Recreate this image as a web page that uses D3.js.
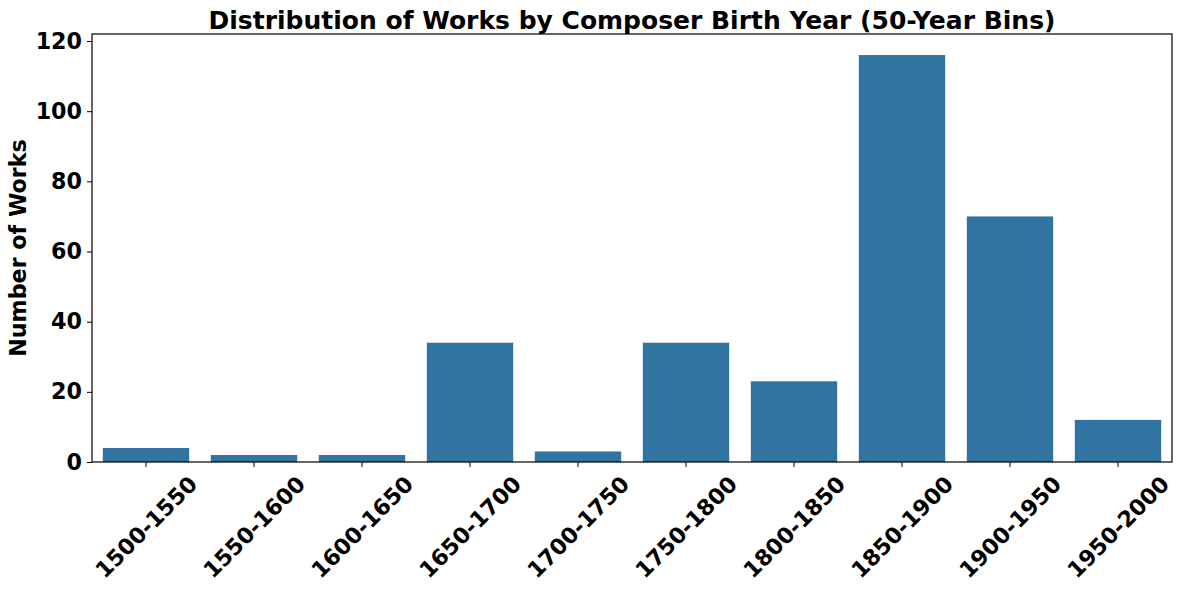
<!DOCTYPE html>
<html lang="en">
  <head>
    <meta charset="utf-8">
    <title>Works by Composer Birth Year</title>
    <style>
      body { margin: 0; background: #fff; }
      svg { display: block; font-family: "DejaVu Sans", sans-serif; font-weight: bold; }
    </style>
    <script src="https://d3js.org/d3.v7.min.js"></script>
  </head>
  <body>
    <script>
      // data
      const bins = ['1500-1550', '1550-1600', '1600-1650', '1650-1700', '1700-1750',
                    '1750-1800', '1800-1850', '1850-1900', '1900-1950', '1950-2000'];
      const counts = [4, 2, 2, 34, 3, 34, 23, 116, 70, 12];
      const yTicks = [0, 20, 40, 60, 80, 100, 120];

      const width = 1182, height = 590;
      const margin = { left: 92, right: 10, top: 34, bottom: 128 };
      const tickFont = 22.2, titleFont = 25;

      const svg = d3.select('body').append('svg')
                    .attr('width', width)
                    .attr('height', height);

      const x = d3.scaleBand()
                  .domain(bins)
                  .range([margin.left, width - margin.right])
                  .paddingInner(0.2)
                  .paddingOuter(0.1);

      const y = d3.scaleLinear()
                  .domain([0, 122])
                  .range([height - margin.bottom, margin.top]);

      // bars
      svg.append('g').selectAll('rect')
        .data(bins)
        .join('rect')
          .attr('x', d => x(d))
          .attr('y', (d, i) => y(counts[i]))
          .attr('width', x.bandwidth())
          .attr('height', (d, i) => y(0) - y(counts[i]))
          .attr('fill', '#3274a1');

      // y axis
      const yAxis = svg.append('g')
        .attr('transform', `translate(${margin.left},0)`)
        .call(d3.axisLeft(y).tickValues(yTicks).tickSize(5).tickPadding(5).tickSizeOuter(0));
      yAxis.select('.domain').remove();
      yAxis.selectAll('text').attr('font-size', tickFont).attr('font-family', 'DejaVu Sans').attr('font-weight', 'bold').attr('fill', '#000');
      yAxis.selectAll('line').attr('stroke', '#000').attr('stroke-width', 1);

      // x axis
      const xAxis = svg.append('g')
        .attr('transform', `translate(0,${y(0)})`)
        .call(d3.axisBottom(x).tickSize(5).tickSizeOuter(0));
      xAxis.select('.domain').remove();
      xAxis.selectAll('line').attr('stroke', '#000').attr('stroke-width', 1);
      xAxis.selectAll('text')
        .attr('font-size', tickFont)
        .attr('font-family', 'DejaVu Sans')
        .attr('font-weight', 'bold')
        .attr('fill', '#000')
        .attr('text-anchor', 'middle')
        .attr('dy', null)
        .attr('dominant-baseline', 'central')
        .each(function() {
          // rotate around centre, top of rotated box sits 10px under the axis
          const w = this.getComputedTextLength();
          const h = tickFont * 1.0;
          const cy = 10 + (w + h) * Math.SQRT1_2 / 2;
          d3.select(this).attr('y', 0).attr('transform', `translate(0,${cy}) rotate(-45)`);
        });

      // frame
      svg.append('rect')
        .attr('x', margin.left)
        .attr('y', margin.top)
        .attr('width', width - margin.left - margin.right)
        .attr('height', height - margin.top - margin.bottom)
        .attr('fill', 'none')
        .attr('stroke', '#000')
        .attr('stroke-width', 1.2);

      // title and y label
      svg.append('text')
        .attr('x', (margin.left + width - margin.right) / 2)
        .attr('y', 29)
        .attr('text-anchor', 'middle')
        .attr('font-size', titleFont)
        .text('Distribution of Works by Composer Birth Year (50-Year Bins)');

      svg.append('text')
        .attr('transform', `translate(26,${(margin.top + height - margin.bottom) / 2}) rotate(-90)`)
        .attr('text-anchor', 'middle')
        .attr('font-size', tickFont)
        .text('Number of Works');
    </script>
  </body>
</html>
